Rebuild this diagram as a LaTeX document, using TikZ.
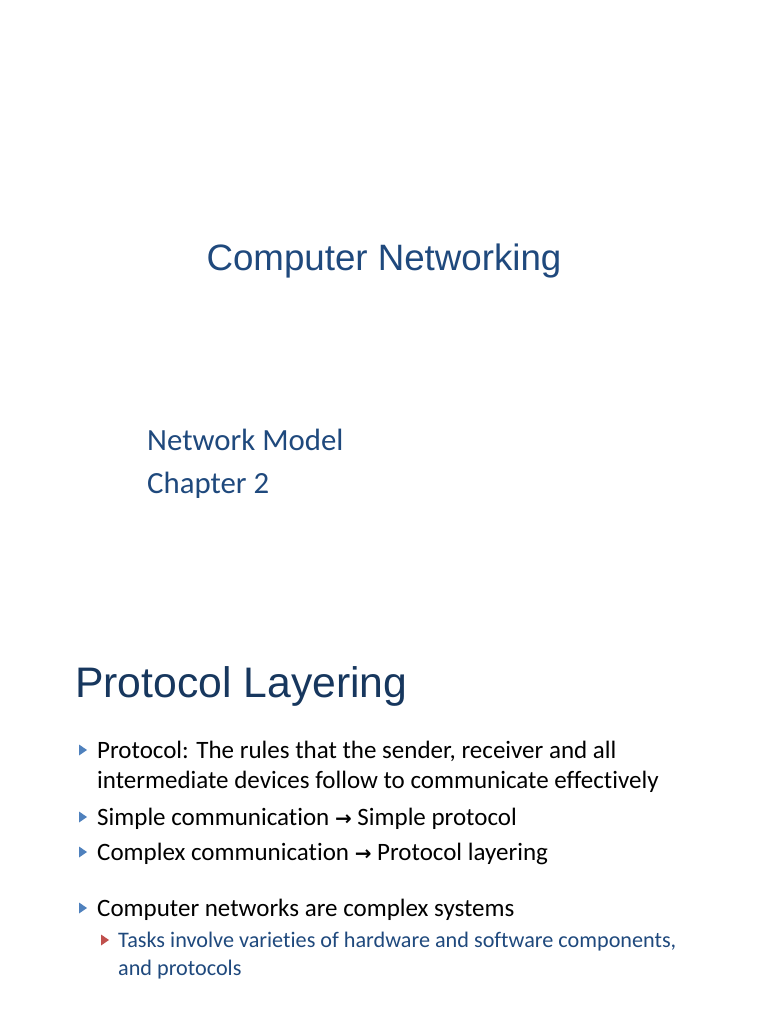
\documentclass[tikz,border=0pt]{standalone}
\usepackage{fontspec}
\setmainfont{Carlito}[Ligatures=NoCommon]
\newfontfamily\arialf{Liberation Sans}
\newfontfamily\djv{DejaVu Sans}
\definecolor{titleblue}{HTML}{1F497D}
\definecolor{headblue}{HTML}{17375E}
\definecolor{bulblue}{HTML}{4F81BD}
\definecolor{subred}{HTML}{C0504D}
\tikzset{
  body/.style={anchor=base west,inner sep=0pt,font=\fontsize{25}{30}\selectfont},
  subbody/.style={anchor=base west,inner sep=0pt,font=\fontsize{22.2}{26}\selectfont,text=titleblue},
  tri/.style={fill=bulblue,draw=none},
  subtri/.style={fill=subred,draw=none}
}
\newcommand{\bultri}[3]{\fill[#3] (#1-4,-#2+5.5) -- (#1+4,-#2) -- (#1-4,-#2-5.5) -- cycle;}
\newcommand{\rar}{{\djv\bfseries\fontsize{20}{22}\selectfont →}}
\begin{document}
\begin{tikzpicture}[x=1pt,y=1pt]
\useasboundingbox (0,0) rectangle (768,-1024);
\fill[white] (0,0) rectangle (768,-1024);
\node[anchor=base,inner sep=0pt,text=titleblue,font=\arialf\fontsize{36.7}{42}\selectfont] (title) at (384,-270) {Computer Networking};
\node[anchor=base west,inner sep=0pt,text=titleblue,font=\fontsize{30.8}{36}\selectfont] (nm) at (147,-450) {Network Model};
\node[anchor=base west,inner sep=0pt,text=titleblue,font=\fontsize{30.8}{36}\selectfont] (ch) at (147,-493) {Chapter 2};
\node[anchor=base west,inner sep=0pt,text=headblue,font=\arialf\fontsize{42.7}{50}\selectfont] (pl) at (75,-697) {Protocol Layering};
\bultri{83}{750}{tri}
\node[body] (b1) at (97,-758) {Protocol: The rules that the sender, receiver and all};
\node[body] (b1b) at (97,-788) {intermediate devices follow to communicate effectively};
\bultri{83}{817}{tri}
\node[body] (b2) at (97,-825) {Simple communication \rar\ Simple protocol};
\bultri{83}{852}{tri}
\node[body] (b3) at (97,-860) {Complex communication \rar\ Protocol layering};
\bultri{83}{908}{tri}
\node[body] (b4) at (97,-916) {Computer networks are complex systems};
\bultri{105}{940}{subtri}
\node[subbody] (s1) at (118,-947) {Tasks involve varieties of hardware and software components,};
\node[subbody] (s1b) at (118,-975) {and protocols};
\end{tikzpicture}
\end{document}
